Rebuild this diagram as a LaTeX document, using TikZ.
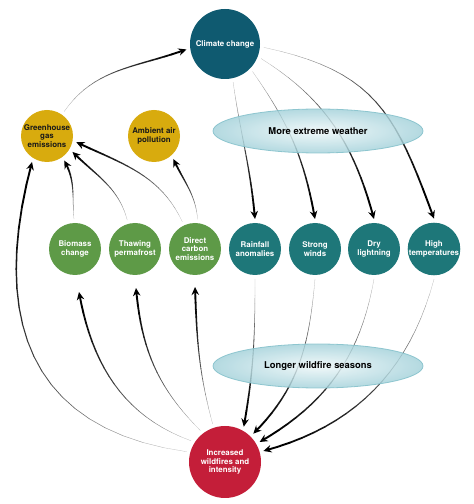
\documentclass[tikz,border=0pt]{standalone}
\usepackage{fontspec}
\setmainfont{TeX Gyre Heros}
\usetikzlibrary{arrows.meta,shapes.geometric}
\definecolor{ccblue}{HTML}{0F5A70}
\definecolor{gold}{HTML}{D8AB0E}
\definecolor{leaf}{HTML}{5E9A47}
\definecolor{tealc}{HTML}{1E7779}
\definecolor{fire}{HTML}{C41E39}
\definecolor{iceout}{HTML}{A3D1DA}
\definecolor{icein}{HTML}{EEF7F8}
\definecolor{iceedge}{HTML}{86C2CC}
\tikzset{
  bub/.style={circle, minimum size=52pt, inner sep=0pt, outer sep=4pt, align=center,
    font=\fontsize{7.9}{8.7}\selectfont\bfseries, text=white},
  yel/.style={bub, fill=gold, text=black!90},
  grn/.style={bub, fill=leaf},
  tel/.style={bub, fill=tealc},
  oval/.style={ellipse, minimum width=210pt, minimum height=44pt, inner sep=0pt,
    draw=iceedge, line width=0.8pt, shading=radial, inner color=icein, outer color=iceout,
    fill opacity=0.82, draw opacity=0.9, text opacity=1,
    font=\fontsize{9.4}{11}\selectfont\bfseries}
}
\newcommand\tconn[3]{%
\path (#1) to[#3]
 coordinate[pos=0](k0) coordinate[pos=0.05](k1) coordinate[pos=0.1](k2) coordinate[pos=0.15](k3)
 coordinate[pos=0.2](k4) coordinate[pos=0.25](k5) coordinate[pos=0.3](k6) coordinate[pos=0.35](k7)
 coordinate[pos=0.4](k8) coordinate[pos=0.45](k9) coordinate[pos=0.5](k10) coordinate[pos=0.55](k11)
 coordinate[pos=0.6](k12) coordinate[pos=0.65](k13) coordinate[pos=0.7](k14) coordinate[pos=0.75](k15)
 coordinate[pos=0.8](k16) coordinate[pos=0.85](k17) coordinate[pos=0.9](k18) coordinate[pos=0.95](k19)
 coordinate[pos=1](k20) (#2);
\foreach \i in {0,...,18}{%
  \pgfmathtruncatemacro\j{\i+1}%
  \pgfmathsetmacro\w{0.25+1.65*(\j/19)^1.4}%
  \pgfmathtruncatemacro\g{min(100,12+88*(\j/19)^0.6)}%
  \draw[line width=\w pt, draw=black!\g, line cap=round] (k\i) -- (k\j);
}%
\draw[line width=1.9pt, -{Stealth[length=8pt,width=7.5pt]}] (k19) -- (k20);
}
\begin{document}
\begin{tikzpicture}[x=1pt,y=1pt]
\useasboundingbox (0,0) rectangle (474,504);
% nodes
\node[bub, fill=ccblue, minimum size=70pt] (cc) at (225,460) {Climate change};
\node[yel] (ghg) at (47,368) {Greenhouse\\gas\\emissions};
\node[yel] (amb) at (154,368) {Ambient air\\pollution};
\node[grn] (bio) at (75,255) {Biomass\\change};
\node[grn] (thaw) at (135,255) {Thawing\\permafrost};
\node[grn] (dir) at (195,255) {Direct\\carbon\\emissions};
\node[tel] (rain) at (255,255) {Rainfall\\anomalies};
\node[tel] (wind) at (315,255) {Strong\\winds};
\node[tel] (dry) at (374,255) {Dry\\lightning};
\node[tel] (hot) at (434,255) {High\\temperatures};
\node[bub, fill=fire, minimum size=72pt] (fire) at (225,42) {Increased\\wildfires and\\intensity};
\coordinate (bioin) at (79,212);
\coordinate (thawin) at (136,216);
\coordinate (dirin) at (195,217);
% connectors
\tconn{ghg.55}{cc.188}{out=55,in=200}
\tconn{cc.-78}{rain.90}{out=-82,in=95}
\tconn{cc.-45}{wind.90}{out=-55,in=100}
\tconn{cc.-22}{dry.90}{out=-32,in=105}
\tconn{cc.-5}{hot.90}{out=-12,in=110,looseness=1.2}
\tconn{bio.92}{ghg.-55}{out=95,in=-60}
\tconn{thaw.105}{ghg.-32}{out=105,in=-45}
\tconn{dir.115}{ghg.-12}{out=115,in=-25}
\tconn{dir.85}{amb.-50}{out=95,in=-65}
\tconn{fire.165}{ghg.-120}{out=172,in=-105,looseness=1.25}
\tconn{fire.148}{bioin}{out=160,in=-80}
\tconn{fire.128}{thawin}{out=135,in=-85}
\tconn{fire.108}{dirin}{out=105,in=-88}
\tconn{rain.-90}{fire.62}{out=-90,in=80}
\tconn{wind.-90}{fire.45}{out=-95,in=45}
\tconn{dry.-90}{fire.30}{out=-100,in=30}
\tconn{hot.-90}{fire.16}{out=-105,in=15}
% ellipses on top
\node[oval] (ew) at (318,373) {More extreme weather};
\node[oval] (lw) at (318,138) {Longer wildfire seasons};
\end{tikzpicture}
\end{document}
